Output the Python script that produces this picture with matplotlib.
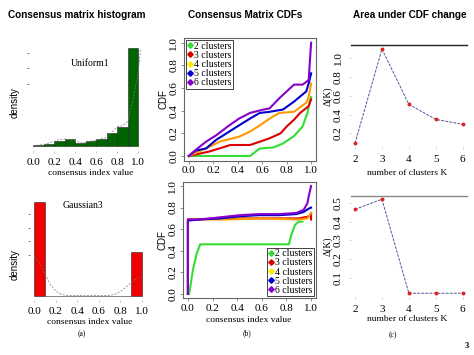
import matplotlib
matplotlib.use('Agg')
import matplotlib.pyplot as plt
from matplotlib.lines import Line2D

W, H = 474, 355
SERIF = ['Liberation Serif', 'DejaVu Serif']
SANS = ['Liberation Sans', 'DejaVu Sans']

# ---- (a) consensus matrix histograms ----
bin_left = [0.0, 0.1, 0.2, 0.3, 0.4, 0.5, 0.6, 0.7, 0.8, 0.9]
uniform1_density = [0.04, 0.13, 0.34, 0.45, 0.17, 0.34, 0.43, 0.82, 1.20, 6.30]
uniform1_curve_x = [0.0, 0.1, 0.2, 0.25, 0.3, 0.4, 0.45, 0.5, 0.6, 0.7, 0.75, 0.8, 0.85, 0.9, 0.95, 1.0, 1.02]
uniform1_curve_y = [0.02, 0.1, 0.3, 0.42, 0.45, 0.35, 0.2, 0.25, 0.38, 0.55, 0.9, 1.25, 1.3, 1.6, 3.0, 4.8, 6.2]
gaussian3_density = [6.87, 0, 0, 0, 0, 0, 0, 0, 0, 3.24]
gaussian3_curve_x = [0.0, 0.05, 0.1, 0.15, 0.2, 0.25, 0.3, 0.7, 0.75, 0.8, 0.85, 0.9, 0.95, 1.0]
gaussian3_curve_y = [2.87, 2.4, 1.6, 0.8, 0.35, 0.1, 0.02, 0.02, 0.1, 0.3, 0.6, 0.95, 1.25, 1.4]
ticks01 = [0.0, 0.2, 0.4, 0.6, 0.8, 1.0]

# ---- (b) consensus CDFs ----
cluster_labels = ['2 clusters', '3 clusters', '4 clusters', '5 clusters', '6 clusters']
line_colors = ['#33dd33', '#dd0000', '#ff9900', '#0000cc', '#8800cc']
legend_colors = ['#33dd33', '#dd0000', '#ffee00', '#0000cc', '#8800cc']

uni_cdf_x = [
    [0, 0.5, 0.58, 0.69, 0.77, 0.86, 0.93, 0.97, 0.99, 1.0],
    [0, 0.17, 0.34, 0.5, 0.58, 0.66, 0.75, 0.8, 0.86, 0.91, 0.98, 1.0],
    [0, 0.17, 0.25, 0.41, 0.5, 0.58, 0.66, 0.74, 0.86, 0.96, 0.98, 1.0],
    [0, 0.055, 0.14, 0.22, 0.33, 0.41, 0.5, 0.58, 0.66, 0.77, 0.86, 0.96, 0.98, 1.0],
    [0, 0.055, 0.14, 0.22, 0.33, 0.41, 0.5, 0.61, 0.66, 0.74, 0.8, 0.86, 0.93, 0.98, 1.0],
]
uni_cdf_y = [
    [0, 0, 0.066, 0.075, 0.11, 0.176, 0.26, 0.38, 0.49, 0.52],
    [0, 0.04, 0.097, 0.097, 0.126, 0.156, 0.2, 0.26, 0.32, 0.38, 0.44, 0.5],
    [0, 0.082, 0.126, 0.17, 0.215, 0.27, 0.33, 0.38, 0.39, 0.47, 0.52, 0.64],
    [0, 0.047, 0.066, 0.14, 0.215, 0.27, 0.33, 0.38, 0.39, 0.41, 0.48, 0.57, 0.64, 0.73],
    [0, 0.053, 0.126, 0.18, 0.27, 0.33, 0.38, 0.41, 0.42, 0.51, 0.57, 0.63, 0.63, 0.67, 1.0],
]

gau_cdf_x = [
    [0.01, 0.04, 0.07, 0.1, 0.82, 0.84, 0.87, 0.9, 0.93],
    [0, 0, 0.3, 0.6, 0.9, 0.99, 1.0, 1.0],
    [0, 0, 0.3, 0.6, 0.9, 0.97, 1.0],
    [0, 0, 0.1, 0.26, 0.42, 0.58, 0.74, 0.88, 0.94, 0.98, 1.0],
    [0, 0, 0.1, 0.26, 0.42, 0.58, 0.74, 0.88, 0.94, 0.97, 0.98, 1.0],
]
gau_cdf_y = [
    [0, 0.22, 0.37, 0.46, 0.46, 0.55, 0.64, 0.67, 0.67],
    [0, 0.69, 0.7, 0.7, 0.7, 0.72, 0.75, 0.69],
    [0, 0.69, 0.69, 0.7, 0.69, 0.7, 0.75],
    [0, 0.68, 0.69, 0.7, 0.72, 0.73, 0.73, 0.74, 0.76, 0.79, 0.8],
    [0, 0.69, 0.69, 0.71, 0.73, 0.74, 0.74, 0.75, 0.78, 0.84, 0.9, 1.0],
]

# ---- (c) delta area ----
k_values = [2, 3, 4, 5, 6]
delta_uniform = [0.093, 1.099, 0.509, 0.349, 0.296]
delta_gaussian = [0.465, 0.518, 0.021, 0.021, 0.021]


def px_axes(fig, left, top, right, bottom):
    return fig.add_axes([left / W, 1 - bottom / H, (right - left) / W, (bottom - top) / H])


def ftext(fig, x, y, s, **kw):
    fig.text(x / W, 1 - y / H, s, ha='center', va='center', **kw)


def style_ticks(ax, size=8):
    for lab in ax.get_xticklabels() + ax.get_yticklabels():
        lab.set_family(SERIF)
        lab.set_fontsize(size)


fig = plt.figure(figsize=(W / 100, H / 100), dpi=100)
fig.patch.set_facecolor('white')


def hist_panel(ax, density, curve_x, curve_y, color, ylim, yticks, name, name_xy):
    ax.bar(bin_left, density, width=0.1, align='edge', color=color,
           edgecolor='#222222', linewidth=0.4)
    ax.plot(curve_x, curve_y, color='#777777', lw=0.5, ls=(0, (3, 2)))
    ax.set_xlim(-0.04, 1.04)
    ax.set_ylim(*ylim)
    for s in ax.spines.values():
        s.set_visible(False)
    ax.set_xticks(ticks01)
    ax.set_xticklabels(['0.0', '0.2', '0.4', '0.6', '0.8', '1.0'])
    ax.set_yticks(yticks)
    ax.set_yticklabels([])
    ax.tick_params(axis='x', length=1.5, width=0.4, color='#999999', pad=4)
    ax.tick_params(axis='y', length=1.5, width=0.6, color='#666666')
    style_ticks(ax)
    ax.text(name_xy[0], name_xy[1], name, family=SERIF, fontsize=7,
            ha='center', va='center')


ax_a1 = px_axes(fig, 29.1, 45.25, 142.5, 150.65)
hist_panel(ax_a1, uniform1_density, uniform1_curve_x, uniform1_curve_y, '#006400',
           (-0.3, 6.5), [4, 5, 6], 'Uniform1', (0.54, 5.3))
ax_a2 = px_axes(fig, 30.0, 197.8, 146.0, 299.8)
hist_panel(ax_a2, gaussian3_density, gaussian3_curve_x, gaussian3_curve_y, '#ee0000',
           (-0.3, 7.2), [3, 4, 5, 6], 'Gaussian3', (0.45, 6.6))

ftext(fig, 77, 15, 'Consensus matrix histogram', family=SANS, fontsize=7.2, fontweight='bold')
ftext(fig, 15, 103, 'density', family=SANS, fontsize=7, rotation=90)
ftext(fig, 15, 265, 'density', family=SANS, fontsize=7, rotation=90)
ftext(fig, 91, 173, 'consensus index value', family=SERIF, fontsize=6.8)
ftext(fig, 90, 321.7, 'consensus index value', family=SERIF, fontsize=6.8)
ftext(fig, 81.7, 334.5, '(a)', family=SERIF, fontsize=5.5)


def cdf_panel(ax, xs, ys, legend_loc):
    for x, y, c in zip(xs, ys, line_colors):
        ax.plot(x, y, color=c, lw=1.5, solid_joinstyle='round')
    ax.set_xlim(-0.04, 1.04)
    ax.set_ylim(-0.04, 1.04)
    for s in ax.spines.values():
        s.set_color('#666666')
        s.set_linewidth(0.8)
    ax.set_xticks(ticks01)
    ax.set_xticklabels(['0.0', '0.2', '0.4', '0.6', '0.8', '1.0'])
    ax.set_yticks(ticks01)
    ax.set_yticklabels(['0.0', '0.2', '0.4', '0.6', '0.8', '1.0'], rotation=90, va='center')
    ax.tick_params(length=2.5, width=0.5, color='#666666', pad=1.5)
    style_ticks(ax)
    handles = [Line2D([], [], ls='none', marker='D', markersize=2.8, color=c)
               for c in legend_colors]
    leg = ax.legend(handles, cluster_labels, loc=legend_loc, prop={'family': SERIF, 'size': 7},
                    handlelength=0.5, handletextpad=0.15, borderpad=0.15, labelspacing=0.02,
                    borderaxespad=0.2, fancybox=False, framealpha=1)
    leg.get_frame().set_edgecolor('#222222')
    leg.get_frame().set_linewidth(0.6)
    ax.set_ylabel('CDF', family=SANS, fontsize=7, labelpad=1)


ax_b1 = px_axes(fig, 184, 38.2, 316, 160.5)
cdf_panel(ax_b1, uni_cdf_x, uni_cdf_y, 'upper left')
ax_b2 = px_axes(fig, 183, 181.7, 316, 298.3)
cdf_panel(ax_b2, gau_cdf_x, gau_cdf_y, 'lower right')

ftext(fig, 245, 15, 'Consensus Matrix CDFs', family=SANS, fontsize=7.2, fontweight='bold')
ftext(fig, 249, 320, 'consensus index value', family=SERIF, fontsize=6.8)
ftext(fig, 247, 333.5, '(b)', family=SERIF, fontsize=5.5)


def delta_panel(ax, values, ylim, yticks, top_color):
    ax.plot(k_values, values, color='#55559a', lw=0.7, ls=(0, (3, 1.2)))
    ax.plot(k_values, values, ls='none', marker='o', markersize=1.8, color='#dd2222')
    ax.set_xlim(1.84, 6.16)
    ax.set_ylim(*ylim)
    for name, s in ax.spines.items():
        s.set_visible(name == 'top')
    ax.spines['top'].set_color(top_color)
    ax.spines['top'].set_linewidth(1.0)
    ax.set_xticks(k_values)
    ax.set_yticks(yticks)
    ax.set_yticklabels([f'{v:.1f}' for v in yticks], rotation=90, va='center')
    ax.tick_params(length=1.5, width=0.4, color='#aaaaaa', pad=4)
    style_ticks(ax)
    ax.set_ylabel('\u0394(K)', family=SERIF, fontsize=7, labelpad=1)


ax_c1 = px_axes(fig, 350.7, 45.3, 467, 147.1)
delta_panel(ax_c1, delta_uniform, (0.053, 1.139), [0.2, 0.4, 0.6, 0.8, 1.0], '#222222')
ax_c2 = px_axes(fig, 350.7, 195.5, 467, 297)
delta_panel(ax_c2, delta_gaussian, (0.001, 0.538), [0.1, 0.2, 0.3, 0.4, 0.5], '#888888')

ftext(fig, 410, 15, 'Area under CDF change', family=SANS, fontsize=7.2, fontweight='bold')
ftext(fig, 407, 173, 'number of clusters K', family=SERIF, fontsize=6.8)
ftext(fig, 407, 319.3, 'number of clusters K', family=SERIF, fontsize=6.8)
ftext(fig, 393, 335, '(c)', family=SERIF, fontsize=5.5)
ftext(fig, 467, 346, '3', family=SERIF, fontsize=6, fontweight='bold')

fig.savefig('out.png', dpi=100, facecolor='white')
